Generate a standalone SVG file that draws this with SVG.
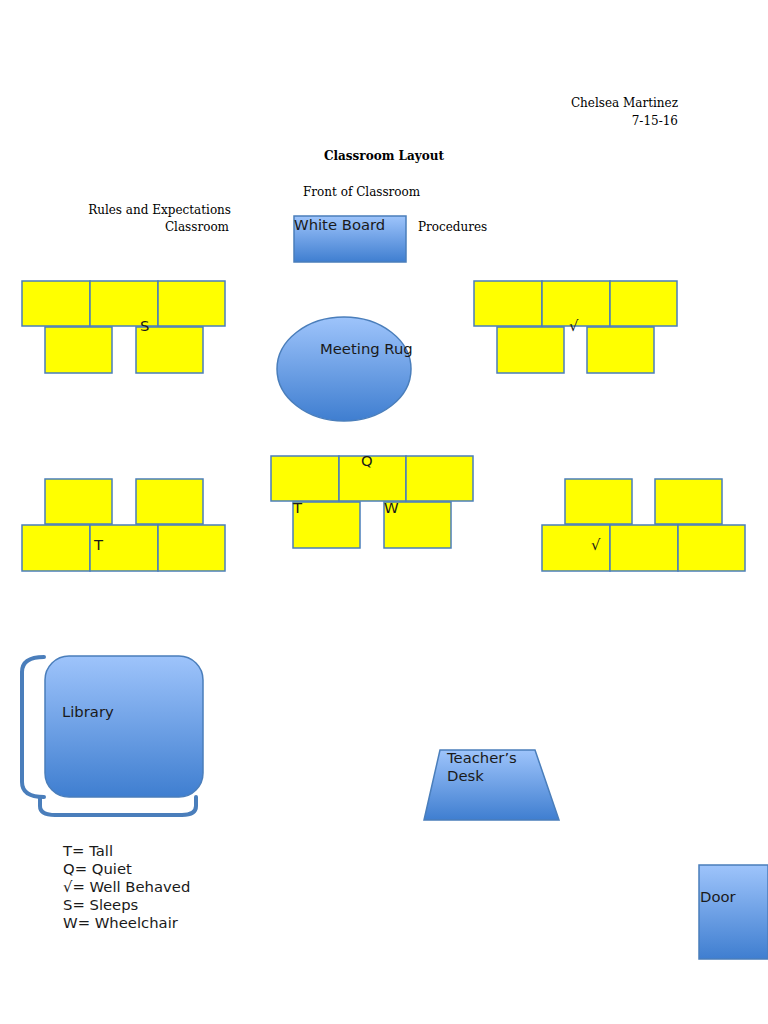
<svg xmlns="http://www.w3.org/2000/svg" width="768" height="1024" viewBox="0 0 768 1024">
<defs>
<linearGradient id="bg" x1="0" y1="0" x2="0" y2="1"><stop offset="0" stop-color="#9ec4fb"/><stop offset="1" stop-color="#3f7ed0"/></linearGradient>
<style>
.d{fill:#ffff00;stroke:#4a7ebb;stroke-width:1.5}
.b{fill:url(#bg);stroke:#4a7ebb;stroke-width:1.5}
.s{font-family:"DejaVu Serif",serif;font-size:12px;fill:#000}
.n{font-family:"DejaVu Sans",sans-serif;font-size:14.8px;fill:#1a1a1a}
.br{fill:none;stroke:#4a7ebb;stroke-width:4;stroke-linecap:round}
</style>
</defs>
<rect width="768" height="1024" fill="#fff"/>
<text class="s" x="678" y="107" text-anchor="end">Chelsea Martinez</text>
<text class="s" x="678" y="125" text-anchor="end">7-15-16</text>
<text class="s" x="384" y="160" text-anchor="middle" font-weight="bold">Classroom Layout</text>
<text class="s" x="303" y="196">Front of Classroom</text>
<text class="s" x="231" y="214" text-anchor="end">Rules and Expectations</text>
<text class="s" x="229" y="231" text-anchor="end">Classroom</text>
<text class="s" x="418" y="231">Procedures</text>
<g id="whiteboard"><rect class="b" x="294" y="216" width="112" height="46"/><text class="n" x="294" y="230">White Board</text></g>
<g id="rug"><ellipse class="b" cx="344" cy="369" rx="67" ry="52"/><text class="n" x="320" y="354">Meeting Rug</text></g>
<g id="group-tl">
<rect class="d" x="22" y="281" width="68" height="45"/><rect class="d" x="90" y="281" width="68" height="45"/><rect class="d" x="158" y="281" width="67" height="45"/>
<rect class="d" x="45" y="327" width="67" height="46"/><rect class="d" x="136" y="327" width="67" height="46"/>
<text class="n" x="140" y="331">S</text></g>
<g id="group-tr">
<rect class="d" x="474" y="281" width="68" height="45"/><rect class="d" x="542" y="281" width="68" height="45"/><rect class="d" x="610" y="281" width="67" height="45"/>
<rect class="d" x="497" y="327" width="67" height="46"/><rect class="d" x="587" y="327" width="67" height="46"/>
<text class="n" x="569" y="331">√</text></g>
<g id="group-bl">
<rect class="d" x="45" y="479" width="67" height="45"/><rect class="d" x="136" y="479" width="67" height="45"/>
<rect class="d" x="22" y="525" width="68" height="46"/><rect class="d" x="90" y="525" width="68" height="46"/><rect class="d" x="158" y="525" width="67" height="46"/>
<text class="n" x="94" y="550">T</text></g>
<g id="group-c">
<rect class="d" x="271" y="456" width="68" height="45"/><rect class="d" x="339" y="456" width="67" height="45"/><rect class="d" x="406" y="456" width="67" height="45"/>
<rect class="d" x="293" y="502" width="67" height="46"/><rect class="d" x="384" y="502" width="67" height="46"/>
<text class="n" x="361" y="466">Q</text><text class="n" x="293" y="513">T</text><text class="n" x="384" y="513">W</text></g>
<g id="group-br">
<rect class="d" x="565" y="479" width="67" height="45"/><rect class="d" x="655" y="479" width="67" height="45"/>
<rect class="d" x="542" y="525" width="68" height="46"/><rect class="d" x="610" y="525" width="68" height="46"/><rect class="d" x="678" y="525" width="67" height="46"/>
<text class="n" x="591" y="550">√</text></g>
<g id="library">
<path class="br" d="M44 657 Q22 657 22 672 L22 782 Q22 797 44 797"/>
<path class="br" d="M40 797 L40 806 Q40 815 55 815 L182 815 Q196 815 196 806 L196 797"/>
<rect class="b" x="45" y="656" width="158" height="141" rx="24"/>
<text class="n" x="62" y="717">Library</text></g>
<g id="desk"><polygon class="b" points="440,750 535,750 559,820 424,820"/><text class="n" x="447" y="763">Teacher’s</text><text class="n" x="447" y="781">Desk</text></g>
<g id="door"><rect class="b" x="699" y="865" width="69" height="94"/><text class="n" x="700" y="902">Door</text></g>
<g id="legend" class="n">
<text x="63" y="856">T= Tall</text><text x="63" y="874">Q= Quiet</text><text x="63" y="892">√= Well Behaved</text><text x="63" y="910">S= Sleeps</text><text x="63" y="928">W= Wheelchair</text></g>
</svg>
